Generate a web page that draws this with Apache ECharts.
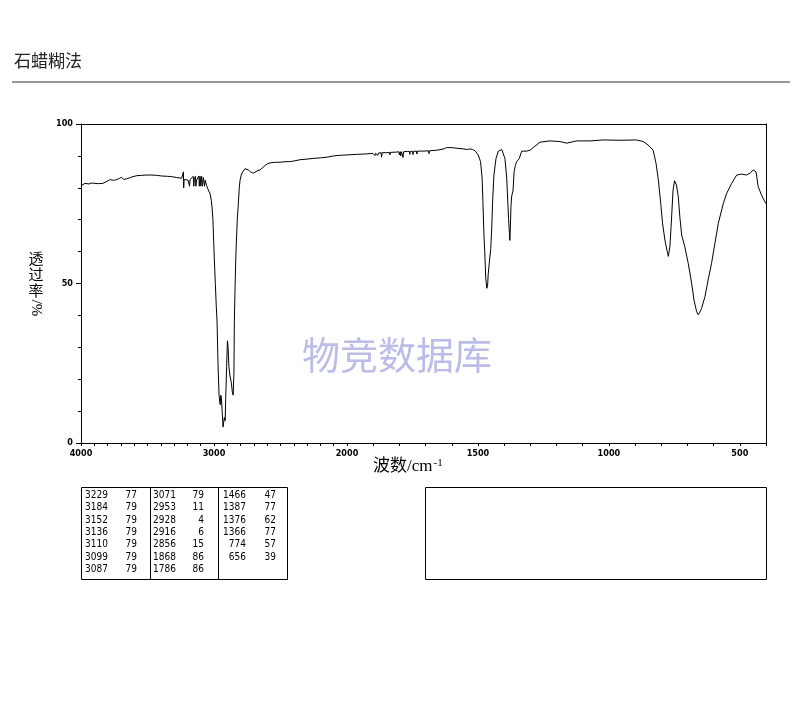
<!DOCTYPE html>
<html>
<head>
<meta charset="utf-8">
<script src="https://cdn.jsdelivr.net/npm/echarts/dist/echarts.min.js"></script>
<style>
html,body{margin:0;padding:0;background:#fff;}
#chart{width:794px;height:709px;}
</style>
</head>
<body>
<div id="chart"></div>
<script>
// ---- data ----
const titleText = '石蜡糊法';
const xAxisName = '波数/cm';
const yAxisName = '透过率/%';
const watermark = '物竞数据库';
const xTicksHigh = [4000, 3000, 2000];
const xTicksLow = [1500, 1000, 500];
const yTicks = [0, 50, 100];

// spectrum: wavenumber (cm-1) and transmittance (%)
const specWn = [
4000,3985,3970,3940,3920,3895,3870,3857,3835,3820,3797,3780,3769,3755,3744,3730,3722,3710,3694,3680,
3669,3658,3647,3630,3609,3580,3544,3510,3468,3430,3393,3350,3318,3280,3243,3234,3230,3228,3225,3210,
3195,3186,3184,3180,3165,3156,3152,3148,3140,3136,3131,3120,3114,3110,3105,3099,3093,3087,3080,3075,
3071,3066,3055,3040,3030,3020,3015,3008,2998,2990,2983,2977,2970,2962,2957,2953,2949,2944,2938,2932,
2928,2922,2916,2912,2905,2899,2894,2888,2880,2870,2862,2856,2850,2847,2841,2835,2825,2817,2810,2804,
2795,2784,2767,2755,2742,2725,2704,2690,2670,2654,2630,2600,2579,2540,2504,2460,2429,2400,2353,2300,
2256,2200,2150,2100,2050,2000,
1960,1930,1901,1895,1893,1891,1884,1882,1880,1870,1868,1866,1850,1838,1836,1834,1810,1802,1800,1797,
1795,1792,1790,1788,1786,1784,1770,1762,1760,1758,1750,1748,1746,1735,1733,1731,1710,1689,1687,1685,
1656,1630,1620,1600,1580,1557,1540,1530,1520,1511,1505,1499,1490,1484,1481,1477,1474,1470,1466,1463,
1461,1456,1451,1447,1444,1439,1431,1422,1415,1409,1403,1397,1390,1386,1383,1380,1378,1376,1374,1371,
1366,1362,1357,1352,1342,1333,1314,1301,1289,1263,1225,1187,1161,1123,1072,1021,958,894,869,850,
843,831,820,811,802,795,786,777,773,767,761,755,749,742,735,729,722,710,697,684,
675,665,659,653,646,633,621,608,595,582,563,550,531,512,493,474,459,449,438,430,
417,404,400];
const specT = [
80.6,81.0,81.4,81.2,81.5,81.4,81.3,81.5,81.4,81.6,82.2,82.6,82.7,82.3,82.4,82.6,82.7,83.0,83.3,82.6,
82.4,82.8,83.0,83.2,83.5,83.8,83.9,84.0,84.0,83.9,83.7,83.6,83.5,83.2,83.0,82.8,85.0,80.0,82.6,82.6,
82.4,82.9,80.5,82.6,82.5,83.6,80.5,82.6,83.6,80.5,82.4,82.6,83.7,80.5,83.6,80.5,83.6,80.5,83.2,83.4,
80.5,82.4,80.6,79.0,78.2,76.0,74.0,70.0,58.0,50.0,43.0,38.0,25.0,15.0,13.0,12.0,15.0,14.0,9.5,5.0,
4.5,8.0,7.0,14.0,24.0,32.0,30.0,24.0,21.0,19.0,16.0,15.0,22.0,38.0,50.0,59.5,70.0,75.0,80.0,82.4,
84.0,85.0,86.0,85.8,85.6,85.0,84.6,84.8,85.4,85.6,86.5,87.5,87.8,88.0,88.0,88.2,88.2,88.4,88.8,89.0,
89.2,89.4,89.6,90.0,90.2,90.3,
90.5,90.6,90.8,90.8,90.1,90.8,90.9,90.2,90.9,91.0,89.6,91.0,91.0,91.1,90.3,91.1,91.2,91.3,90.3,91.3,
90.0,91.3,91.9,91.3,89.5,91.3,91.4,91.4,90.5,91.4,91.4,90.4,91.4,91.5,90.6,91.5,91.5,91.6,90.7,91.6,
91.8,92.2,92.6,92.6,92.4,92.2,92.0,92.2,92.0,91.6,91.0,90.3,88.2,83.0,75.6,65.0,60.0,51.5,48.5,49.5,
52.7,57.0,61.0,68.0,75.6,84.0,89.2,91.5,92.0,92.0,91.5,89.2,83.0,75.6,70.4,66.0,63.5,68.0,74.0,77.5,
79.0,85.0,87.0,88.2,89.2,91.5,91.5,91.8,92.6,94.3,94.7,94.5,94.0,94.7,94.7,95.0,94.9,95.0,94.5,93.4,
93.0,91.8,87.7,82.4,75.1,68.9,63.6,60.0,58.5,61.5,69.9,79.3,82.2,80.9,77.2,70.9,65.2,61.5,56.3,50.1,
44.8,41.2,40.2,41.0,42.2,45.9,51.1,56.3,62.6,68.9,75.1,78.3,81.4,84.0,84.3,84.0,84.7,85.6,85.0,80.4,
77.7,75.6,75.0];

// peak table
const peakWn = [3229,3184,3152,3136,3110,3099,3087,3071,2953,2928,2916,2856,1868,1786,1466,1387,1376,1366,774,656];
const peakT  = [77,79,79,79,79,79,79,79,11,4,6,15,86,86,47,77,62,77,57,39];

// ---- build ----
const highData = [], lowData = [];
for (let i = 0; i < specWn.length; i++) {
  if (specWn[i] >= 2000) highData.push([specWn[i], specT[i]]);
  if (specWn[i] <= 2000) lowData.push([specWn[i], specT[i]]);
}

const tickFont = {fontSize: 9, fontFamily: "'Liberation Sans Narrow','DejaVu Sans Condensed',sans-serif", color: '#000', fontWeight: 'bold'};
const lineStyle = {color: '#000', width: 1};

const graphics = [];
// title
graphics.push({type: 'text', left: 14, top: 52, style: {text: titleText, fontSize: 17, fontFamily: "'Noto Sans CJK SC',sans-serif", fill: '#222'}});
graphics.push({type: 'line', shape: {x1: 12, y1: 82, x2: 790, y2: 82}, style: {stroke: '#999', lineWidth: 2}});
// watermark
graphics.push({type: 'text', x: 397, y: 355, style: {text: watermark, fontSize: 38, fontFamily: "'Noto Sans CJK SC',sans-serif", fill: 'rgba(160,160,222,0.7)', align: 'center', verticalAlign: 'middle'}, z: 10});
// axis names
graphics.push({type: 'text', x: 373, y: 467, style: {
  text: '{a|' + xAxisName + '}{b|-1}', verticalAlign: 'middle',
  rich: {a: {fontSize: 17, fontFamily: "'Liberation Serif','Noto Sans CJK SC',serif", fill: '#000'},
         b: {fontSize: 11, fontFamily: "'Liberation Serif',serif", fill: '#000', verticalAlign: 'top', padding: [0,0,8,1]}}
}});
graphics.push({type: 'text', x: 36, y: 250, style: {text: yAxisName.slice(0,3).split('').join('\n'), fontSize: 15, lineHeight: 16, fontFamily: "'Noto Sans CJK SC',sans-serif", fill: '#000', align: 'center', verticalAlign: 'top'}});
graphics.push({type: 'text', x: 36, y: 308, rotation: -Math.PI / 2, style: {text: yAxisName.slice(3), fontSize: 15, fontFamily: "'Liberation Serif',serif", fill: '#000', align: 'center', verticalAlign: 'middle'}});

// peak table
const tx = 81.5, ty = 487.5, tw = 206, th = 92;
graphics.push({type: 'rect', shape: {x: tx, y: ty, width: tw, height: th}, style: {fill: 'none', stroke: '#000', lineWidth: 1}});
graphics.push({type: 'line', shape: {x1: 150.5, y1: ty, x2: 150.5, y2: ty + th}, style: {stroke: '#000', lineWidth: 1}});
graphics.push({type: 'line', shape: {x1: 218.5, y1: ty, x2: 218.5, y2: ty + th}, style: {stroke: '#000', lineWidth: 1}});
graphics.push({type: 'rect', shape: {x: 425.5, y: 487.5, width: 341, height: 92}, style: {fill: 'none', stroke: '#000', lineWidth: 1}});
const colWnRight = [108, 176, 246], colTRight = [137, 204, 276];
for (let i = 0; i < peakWn.length; i++) {
  const c = Math.floor(i / 7), r = i % 7;
  const yy = 495.5 + r * 12.3;
  graphics.push({type: 'text', x: colWnRight[c], y: yy, style: {text: String(peakWn[i]), align: 'right', verticalAlign: 'middle', fill: '#000', fontSize: 10, fontFamily: tickFont.fontFamily}});
  graphics.push({type: 'text', x: colTRight[c], y: yy, style: {text: String(peakT[i]), align: 'right', verticalAlign: 'middle', fill: '#000', fontSize: 10, fontFamily: tickFont.fontFamily}});
}

const hideAll = {axisLabel: {show: false}, axisTick: {show: false}, splitLine: {show: false}};

const option = {
  animation: false,
  backgroundColor: '#fff',
  grid: [
    {left: 81, top: 124, width: 266, height: 319},
    {left: 347, top: 124, width: 419, height: 319}
  ],
  xAxis: [
    {gridIndex: 0, type: 'value', min: 2000, max: 4000, inverse: true, interval: 100, position: 'bottom',
     axisLine: {show: true, lineStyle: lineStyle},
     axisTick: {show: true, length: 3, lineStyle: lineStyle},
     axisLabel: Object.assign({margin: 6, interval: 0, showMaxLabel: true, showMinLabel: true, formatter: v => xTicksHigh.includes(v) ? String(v) : ''}, tickFont),
     splitLine: {show: false}},
    {gridIndex: 1, type: 'value', min: 400, max: 2000, inverse: true, interval: 100, position: 'bottom',
     axisLine: {show: true, lineStyle: lineStyle},
     axisTick: {show: true, length: 3, lineStyle: lineStyle},
     axisLabel: Object.assign({margin: 6, interval: 0, formatter: v => xTicksLow.includes(v) ? String(v) : ''}, tickFont),
     splitLine: {show: false}},
    Object.assign({gridIndex: 0, type: 'value', min: 2000, max: 4000, inverse: true, position: 'top', axisLine: {show: true, lineStyle: lineStyle}}, hideAll),
    Object.assign({gridIndex: 1, type: 'value', min: 400, max: 2000, inverse: true, position: 'top', axisLine: {show: true, lineStyle: lineStyle}}, hideAll)
  ],
  yAxis: [
    {gridIndex: 0, type: 'value', min: 0, max: 100, interval: 50, position: 'left',
     axisLine: {show: true, lineStyle: lineStyle},
     axisTick: {show: true, length: 5, lineStyle: lineStyle},
     minorTick: {show: true, splitNumber: 5, length: 3, lineStyle: lineStyle},
     axisLabel: Object.assign({margin: 8, formatter: v => yTicks.includes(v) ? String(v) : ''}, tickFont),
     splitLine: {show: false}, minorSplitLine: {show: false}},
    Object.assign({gridIndex: 1, type: 'value', min: 0, max: 100, position: 'right', axisLine: {show: true, lineStyle: lineStyle}}, hideAll)
  ],
  series: [
    {type: 'line', xAxisIndex: 0, yAxisIndex: 0, data: highData, showSymbol: false, symbol: 'none', lineStyle: lineStyle, silent: true},
    {type: 'line', xAxisIndex: 1, yAxisIndex: 1, data: lowData, showSymbol: false, symbol: 'none', lineStyle: lineStyle, silent: true}
  ],
  graphic: graphics
};

const chart = echarts.init(document.getElementById('chart'), null, {renderer: 'canvas'});
chart.setOption(option);
</script>
</body>
</html>
